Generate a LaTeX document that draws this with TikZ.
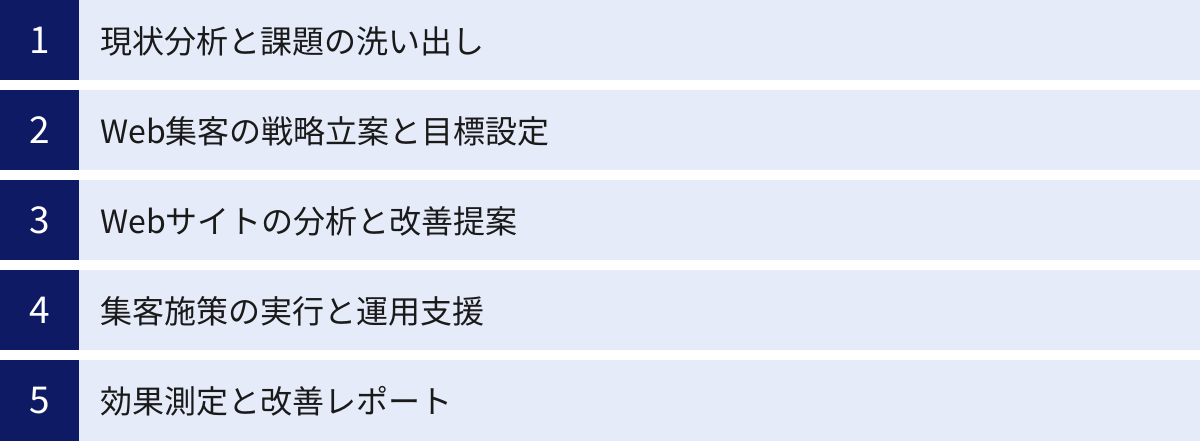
\documentclass[tikz,border=0pt]{standalone}
\usepackage{fontspec}
\setmainfont{Noto Sans CJK JP}
\definecolor{navy}{HTML}{0E1A63}
\definecolor{barbg}{HTML}{E5EBF8}
\definecolor{txt}{HTML}{1A1A1A}
\begin{document}
\begin{tikzpicture}[x=1pt,y=-1pt,
  numbox/.style={fill=navy,draw=none,minimum width=79pt,inner sep=0pt,text=white,font=\fontsize{37}{37}\selectfont},
  barbox/.style={fill=barbg,draw=none,minimum width=1121pt,inner sep=0pt},
  lbl/.style={anchor=west,inner sep=0pt,text=txt,font=\fontsize{32}{32}\selectfont}]
\useasboundingbox (0,0) rectangle (1200,441);
\fill[white] (0,0) rectangle (1200,441);
\foreach \i/\t/\h in {1/現状分析と課題の洗い出し/80,2/Web集客の戦略立案と目標設定/80,3/Webサイトの分析と改善提案/80,4/集客施策の実行と運用支援/80,5/効果測定と改善レポート/81}{
  \pgfmathsetmacro{\yc}{90*(\i-1)+\h/2}
  \node[barbox,minimum height=\h pt] (bar\i) at (639.5,\yc) {};
  \node[numbox,minimum height=\h pt] (num\i) at (39.5,\yc) {};
  \node[text=white,inner sep=0pt,font=\fontsize{37}{37}\selectfont] (n\i) at (num\i.center) {\i};
  \node[lbl] (lbl\i) at (100,\yc+1) {\t};
}
\end{tikzpicture}
\end{document}
